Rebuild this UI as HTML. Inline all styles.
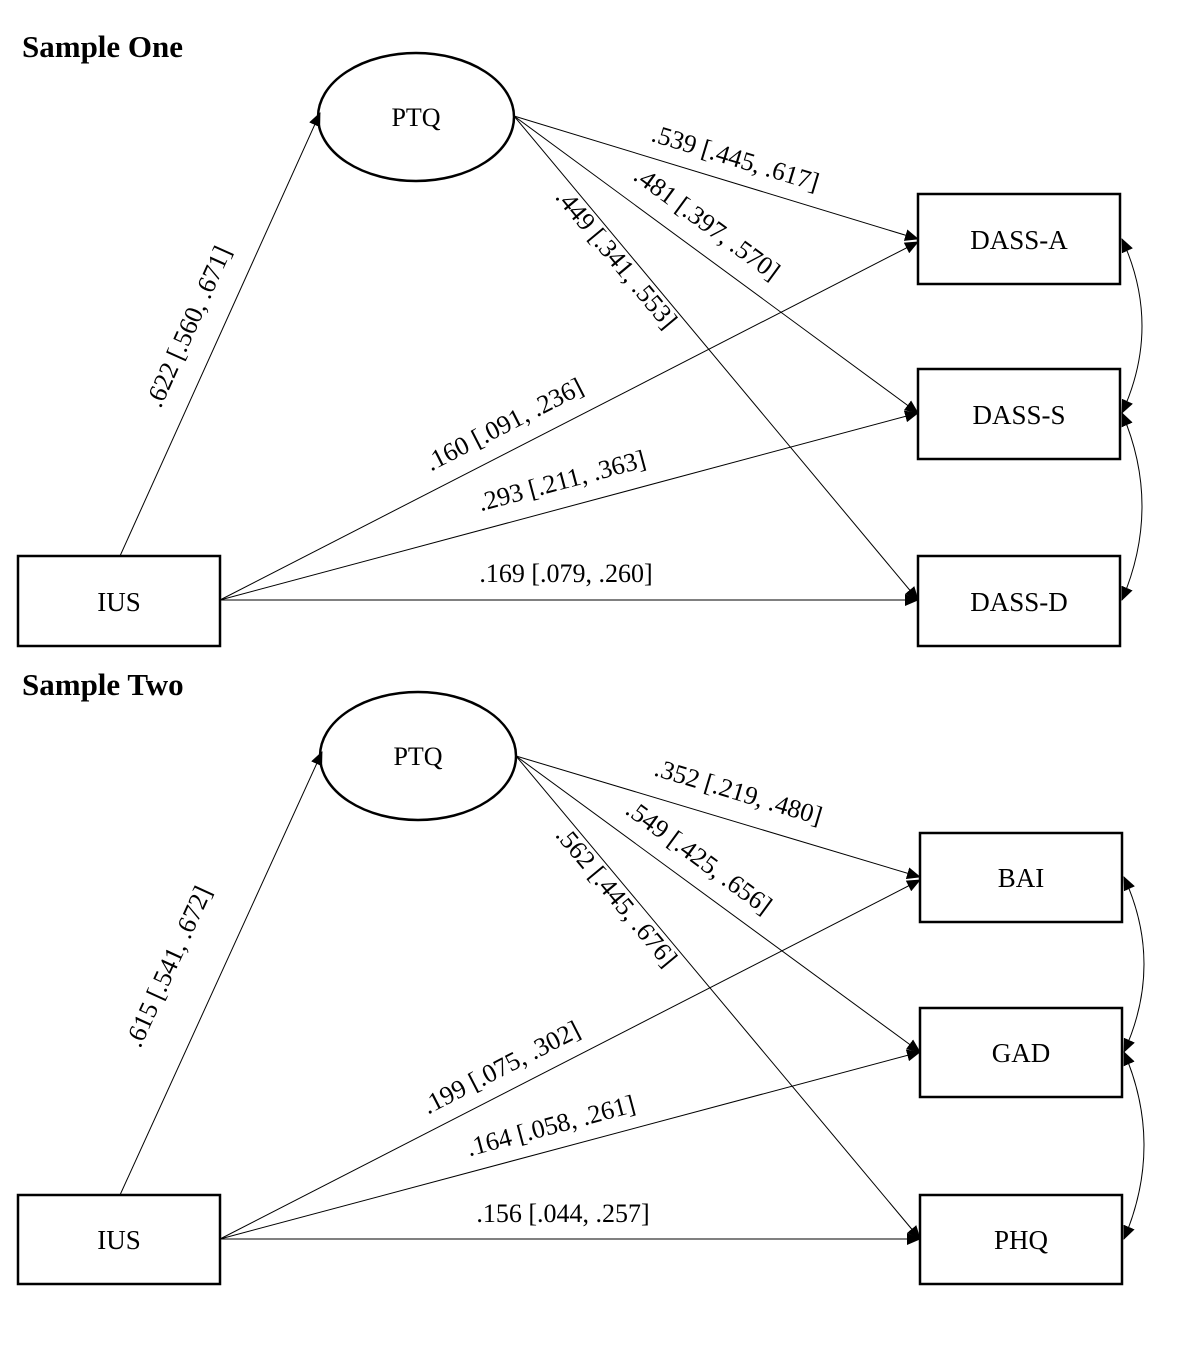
<!DOCTYPE html>
<html><head><meta charset="utf-8"><style>body{margin:0;background:#fff}svg{display:block}</style></head><body>
<svg width="1200" height="1369" viewBox="0 0 1200 1369" xmlns="http://www.w3.org/2000/svg" font-family="Liberation Serif, serif">
<defs><marker id="a" markerWidth="14" markerHeight="12" refX="13" refY="6" orient="auto" markerUnits="userSpaceOnUse"><path d="M0,0L14,6L0,12z" fill="#000"/></marker>
<marker id="b" markerWidth="14" markerHeight="12" refX="13" refY="6" orient="auto-start-reverse" markerUnits="userSpaceOnUse"><path d="M0,0L14,6L0,12z" fill="#000"/></marker></defs>
<g stroke="#000" fill="none">
<text x="22" y="57" font-size="31" font-weight="bold" stroke="none" fill="#000">Sample One</text>
<ellipse cx="416" cy="117" rx="98" ry="64" stroke-width="2.5"/>
<rect x="918" y="194" width="202" height="90" stroke-width="2.5"/>
<rect x="918" y="369" width="202" height="90" stroke-width="2.5"/>
<rect x="918" y="556" width="202" height="90" stroke-width="2.5"/>
<rect x="18" y="556" width="202" height="90" stroke-width="2.5"/>
<g stroke-width="1" marker-end="url(#a)">
<line x1="120" y1="556" x2="320" y2="113"/>
<line x1="514" y1="116" x2="918" y2="239"/>
<line x1="514" y1="116" x2="918" y2="413"/>
<line x1="514" y1="116" x2="918" y2="600"/>
<line x1="220" y1="600" x2="918" y2="242"/>
<line x1="220" y1="600" x2="918" y2="413"/>
<line x1="220" y1="600" x2="918" y2="600"/>
</g>
<g stroke-width="1" marker-start="url(#b)" marker-end="url(#a)">
<path d="M1122,239 Q1162,326 1122,413"/>
<path d="M1122,413 Q1162,506 1122,600"/>
</g>
<text x="22" y="695" font-size="31" font-weight="bold" stroke="none" fill="#000">Sample Two</text>
<ellipse cx="418" cy="756" rx="98" ry="64" stroke-width="2.5"/>
<rect x="920" y="833" width="202" height="89" stroke-width="2.5"/>
<rect x="920" y="1008" width="202" height="89" stroke-width="2.5"/>
<rect x="920" y="1195" width="202" height="89" stroke-width="2.5"/>
<rect x="18" y="1195" width="202" height="89" stroke-width="2.5"/>
<g stroke-width="1" marker-end="url(#a)">
<line x1="120" y1="1195" x2="322" y2="752"/>
<line x1="516" y1="756" x2="920" y2="877"/>
<line x1="516" y1="756" x2="920" y2="1052"/>
<line x1="516" y1="756" x2="920" y2="1239"/>
<line x1="220" y1="1239" x2="920" y2="880"/>
<line x1="220" y1="1239" x2="920" y2="1052"/>
<line x1="220" y1="1239" x2="920" y2="1239"/>
</g>
<g stroke-width="1" marker-start="url(#b)" marker-end="url(#a)">
<path d="M1124,877 Q1164,964 1124,1052"/>
<path d="M1124,1052 Q1164,1145 1124,1239"/>
</g>
</g>
<g font-size="27" fill="#000" text-anchor="middle">
<text x="416" y="126" font-size="26">PTQ</text>
<text x="1019" y="249">DASS-A</text>
<text x="1019" y="424">DASS-S</text>
<text x="1019" y="611">DASS-D</text>
<text x="119" y="611">IUS</text>
<text x="418" y="765" font-size="26">PTQ</text>
<text x="1021" y="887">BAI</text>
<text x="1021" y="1062">GAD</text>
<text x="1021" y="1249">PHQ</text>
<text x="119" y="1249">IUS</text>
</g>
<g font-size="26" fill="#000" text-anchor="middle">
<text transform="translate(196,330) rotate(-65.8)">.622 [.560, .671]</text>
<text transform="translate(733,166) rotate(16.9)">.539 [.445, .617]</text>
<text transform="translate(702,230) rotate(36.3)">.481 [.397, .570]</text>
<text transform="translate(610,264) rotate(50.2)">.449 [.341, .553]</text>
<text transform="translate(508,432) rotate(-27.1)">.160 [.091, .236]</text>
<text transform="translate(564,489) rotate(-15)">.293 [.211, .363]</text>
<text x="566" y="582">.169 [.079, .260]</text>
<text transform="translate(176,970) rotate(-65.5)">.615 [.541, .672]</text>
<text transform="translate(736,800) rotate(16.7)">.352 [.219, .480]</text>
<text transform="translate(694,864) rotate(36.3)">.549 [.425, .656]</text>
<text transform="translate(610,902) rotate(50.3)">.562 [.445, .676]</text>
<text transform="translate(505,1075) rotate(-27.2)">.199 [.075, .302]</text>
<text transform="translate(553,1134) rotate(-15)">.164 [.058, .261]</text>
<text x="563" y="1222">.156 [.044, .257]</text>
</g>
</svg>
</body></html>
